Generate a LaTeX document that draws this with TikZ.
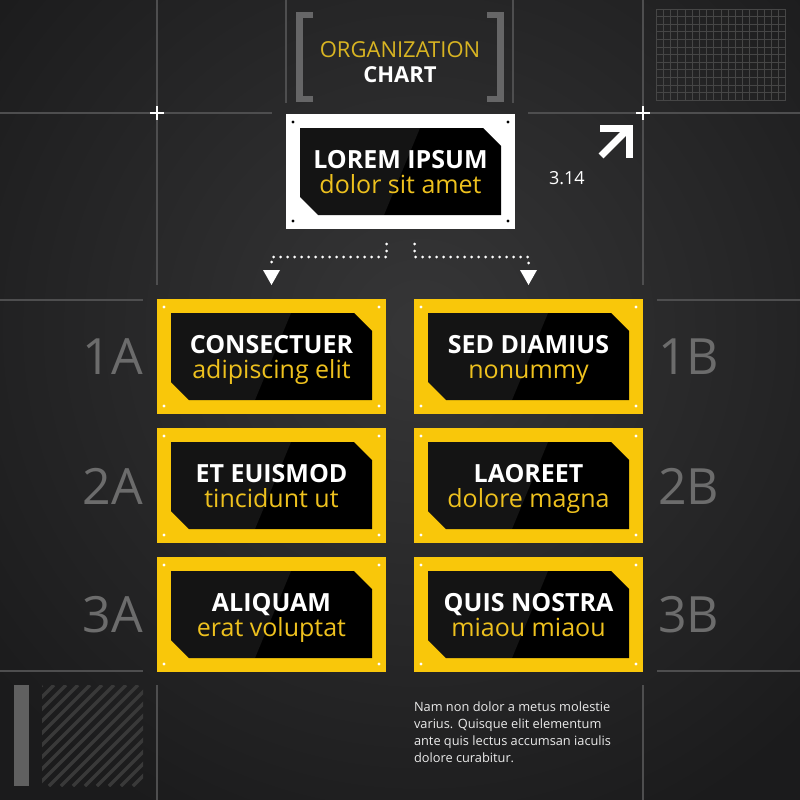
\documentclass[tikz,border=0pt]{standalone}
\usepackage{fontspec}
\setmainfont{Open Sans}
\usetikzlibrary{calc}
\definecolor{bgin}{HTML}{363637}
\definecolor{bgout}{HTML}{1B1B1C}
\definecolor{guidegray}{HTML}{4E4E4F}
\definecolor{brackgray}{HTML}{666667}
\definecolor{labelgray}{HTML}{6C6C6C}
\definecolor{plateyellow}{HTML}{F9C70A}
\definecolor{subyellow}{HTML}{EEC11E}
\definecolor{orgyellow}{HTML}{D8B422}
\newcommand\OrgPlate[7]{% name, left, top, plate colour, dot colour, title, subtitle
  \fill[#4] (#2,#3) rectangle ++(\PW,\PH);
  \fill[black] (#2,#3) ++(14,14) -- ++(\PW-46,0) -- ++(18,18) -- ++(0,\PH-46)
    -- ++(-\PW+46,0) -- ++(-18,-18) -- cycle;
  \fill[white,opacity=0.08] (#2,#3) ++(14,14) -- ++(120,0) -- ++(-36,\PH-28)
    -- ++(-66,0) -- ++(-18,-18) -- cycle; % gloss
  \foreach \dx/\dy in {7/8,\PW-7/8,7/\PH-8,\PW-7/\PH-8}
    \fill[#5] ($(#2,#3)+(\dx,\dy)$) circle (1.6);
  \coordinate (#1-top) at ($(#2,#3)+(\PW/2,0)$);
  \coordinate (#1-bot) at ($(#2,#3)+(\PW/2,\PH)$);
  \node[plate title] (#1) at ($(#2,#3)+(\PW/2,\PH/2-3.5)$) {#6};
  \node[plate sub] (#1-sub) at ($(#2,#3)+(\PW/2,\PH/2+21.5)$) {#7};
}
\tikzset{%
  inner sep=0pt,%
  outer sep=0pt,%
  guide line/.style={guidegray,line width=1.2pt},
  cross mark/.style={white,line width=1.3pt},
  bracket line/.style={brackgray,line width=6.5pt,line join=miter},
  dot line/.style={white,line width=3pt,line cap=round,dash pattern=on 0pt off 7pt},
  plate title/.style={anchor=base,text=white,font=\fontsize{25}{25}\selectfont\bfseries},
  plate sub/.style={anchor=base,text=subyellow,font=\fontsize{25}{25}\selectfont},
  row label/.style={text=labelgray,font=\fontsize{50}{50}\selectfont},
  head text/.style={anchor=base,font=\fontsize{22}{22}\selectfont},
  grid line/.style={gray!55!black,line width=0.6pt},
  hatch line/.style={gray!45!black,line width=3.5pt}
}
\begin{document}
\begin{tikzpicture}[x=1pt,y=-1pt]
\def\PW{229} % plate width
\def\PH{115} % plate height
\useasboundingbox (0,0) rectangle (800,800);
\shade[inner color=bgin,outer color=bgout] (-130,-220) rectangle (970,880);

% frame lines
\draw[guide line] (0,113) -- (272,113) (528,113) -- (800,113);
\draw[guide line] (157,0) -- (157,285) (643,0) -- (643,285);
\draw[guide line] (0,300) -- (143,300) (657,300) -- (800,300);
\draw[guide line] (0,671) -- (143,671) (657,671) -- (800,671);
\draw[guide line] (157,685) -- (157,800) (643,685) -- (643,800);
\draw[guide line] (286,0) -- (286,103) (513,0) -- (513,103);
\foreach \px in {157,643}
  \draw[cross mark] (\px-7,113) -- (\px+7,113) (\px,106) -- (\px,120);

% header
\draw[bracket line] (313,15) -- (299.5,15) -- (299.5,99) -- (313,99);
\draw[bracket line] (487,15) -- (500.5,15) -- (500.5,99) -- (487,99);
\node[head text,text=orgyellow] (org) at (400,57) {ORGANIZATION};
\node[head text,text=white,font=\fontsize{22}{22}\selectfont\bfseries] (chart) at (400,82) {CHART};

% grid, top right
\foreach \i in {0,...,18}
  \draw[grid line] (656+\i*7.2,9) -- ++(0,91);
\foreach \j in {0,...,12}
  \draw[grid line] (656,9+\j*7.58) -- ++(130,0);

% plates
\OrgPlate{lorem}{286}{114}{white}{black}{LOREM IPSUM}{dolor sit amet}
\OrgPlate{consec}{157}{299}{plateyellow}{white}{CONSECTUER}{adipiscing elit}
\OrgPlate{diam}{414}{299}{plateyellow}{white}{SED DIAMIUS}{nonummy}
\OrgPlate{euismod}{157}{428}{plateyellow}{white}{ET EUISMOD}{tincidunt ut}
\OrgPlate{laoreet}{414}{428}{plateyellow}{white}{LAOREET}{dolore magna}
\OrgPlate{aliquam}{157}{557}{plateyellow}{white}{ALIQUAM}{erat voluptat}
\OrgPlate{nostra}{414}{557}{plateyellow}{white}{QUIS NOSTRA}{miaou miaou}

% dotted connectors
\draw[dot line] ($(lorem-bot)+(-14,15)$) |- ($(consec-top)+(0,-42)$) -- ++(0,9);
\draw[dot line] ($(lorem-bot)+(14,15)$) |- ($(diam-top)+(0,-42)$) -- ++(0,9);
\foreach \nm in {consec,diam}
  \fill[white] ($(\nm-top)+(-8.5,-29)$) -- ++(17,0) -- ($(\nm-top)+(0,-14)$) -- cycle;

% row labels
\node[row label,anchor=east] (l1a) at (143,357) {1A};
\node[row label,anchor=east] (l2a) at (143,486) {2A};
\node[row label,anchor=east] (l3a) at (143,615) {3A};
\node[row label,anchor=west] (l1b) at (658,357) {1B};
\node[row label,anchor=west] (l2b) at (658,486) {2B};
\node[row label,anchor=west] (l3b) at (658,615) {3B};

% arrow and value
\draw[white,line width=7pt] (601,156) -- (627,130);
\draw[white,line width=7pt,line join=miter] (600,128.5) -- (629,128.5) -- (629,158);
\node[anchor=base west,text=white,font=\fontsize{18}{18}\selectfont] (val) at (549,184) {3.14};

% bottom left bar and hatch
\fill[gray!75!black] (14,685) rectangle (29,786);
\begin{scope}
  \clip (42,685) rectangle (143,786);
  \foreach \k in {0,...,17}
    \draw[hatch line] (-59+\k*12,786) -- ++(101,-101);
\end{scope}

\node[anchor=north west,align=left,text=white!92!black,font=\fontsize{12.8}{17}\selectfont] (note) at (414,702)
  {Nam non dolor a metus molestie\\varius. Quisque elit elementum\\ante quis lectus accumsan iaculis\\dolore curabitur.};
\end{tikzpicture}
\end{document}
